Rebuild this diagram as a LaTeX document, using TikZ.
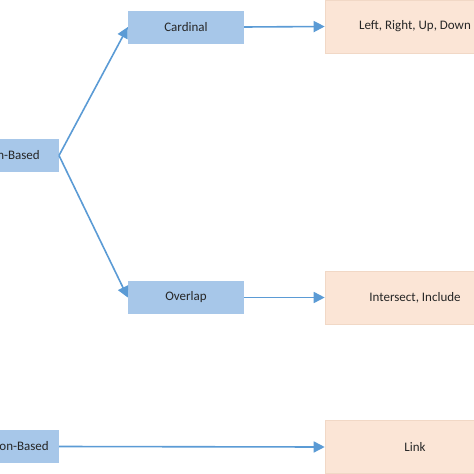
\documentclass[tikz,border=0pt]{standalone}
\usepackage{fontspec}
\setmainfont{Carlito}
\usepackage{tikz}
\usetikzlibrary{positioning}
\usetikzlibrary{arrows.meta}
\definecolor{boxblue}{HTML}{A7C7E9}
\definecolor{arrowblue}{HTML}{5B9BD5}
\definecolor{boxpeach}{HTML}{FBE5D6}
\definecolor{peachline}{HTML}{F1D8C6}
\tikzstyle{catbox}=[rectangle,fill=boxblue,minimum width=116pt,minimum height=33pt,inner sep=0pt,text=black!85,font=\fontsize{13}{15}\selectfont]
\tikzstyle{relbox}=[rectangle,fill=boxpeach,draw=peachline,line width=0.6pt,minimum width=180pt,minimum height=53pt,inner sep=0pt,text=black!85,font=\fontsize{13}{15}\selectfont]
\tikzstyle{edge} = [draw,line width=1.6pt,arrowblue,-{Triangle[length=11pt,width=11pt]}]

\begin{document}
\begin{tikzpicture}[x=1pt,y=-1pt]
    \useasboundingbox (0,0) rectangle (474,474);
    \clip (0,0) rectangle (474,474);
    % The two boxes cut by the left edge
    \node[catbox,anchor=east,text width=78pt,inner xsep=19pt,align=right] (dir) at (59,155.5) {n-Based};
    \node[catbox,anchor=east,text width=96pt,inner xsep=10pt,align=right] (con) at (59,446.5) {on-Based};
    % Then the middle boxes
    \foreach \pos/\name/\label in {{(186,27)/card/Cardinal}, {(186,297.5)/over/Overlap}}
        \node[catbox] (\name) at \pos {\label};
    % And the boxes on the right
    \foreach \pos/\name/\label in {{(415,26.5)/lrud/{Left, Right, Up, Down}},
    {(415,297.5)/inter/{Intersect, Include}}, {(415,447)/link/Link}}
        \node[relbox] (\name) at \pos {\label};

    % Connect the boxes
    \foreach \source/ \dest in {dir/card, dir/over, card/lrud, over/inter, con/link}
        \path[edge] (\source.east) -- (\dest.west);
\end{tikzpicture}
\end{document}
